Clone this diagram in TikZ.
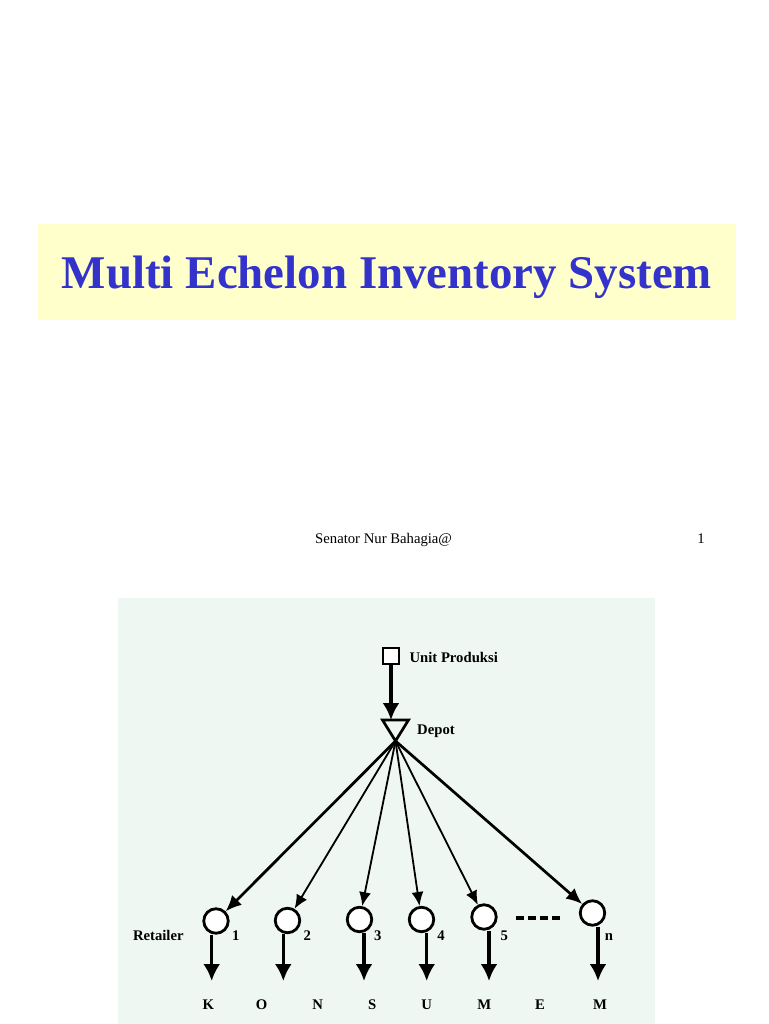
\documentclass[tikz,border=0pt]{standalone}
\usepackage{fontspec}
\setmainfont{Liberation Serif}
\usetikzlibrary{positioning}
\usetikzlibrary{arrows.meta}
\definecolor{biruJudul}{RGB}{51,51,204}
\definecolor{kuningJudul}{RGB}{255,255,204}
\definecolor{hijauPanel}{RGB}{238,247,242}

\begin{document}
\begin{tikzpicture}[x=1pt,y=-1pt,
judul/.style={anchor=base,text=biruJudul,font=\fontsize{46.9}{50}\selectfont\bfseries},
catatan/.style={anchor=base west,inner sep=0pt,font=\fontsize{14.7}{16}\selectfont},
teks/.style={anchor=base west,inner sep=0pt,font=\fontsize{14.7}{16}\selectfont\bfseries},
nomor/.style={anchor=base,inner sep=0pt,font=\fontsize{14.7}{16}\selectfont\bfseries},
pabrik/.style={draw,line width=2.7pt,fill=white,minimum size=16pt,inner sep=0pt},
toko/.style={draw,circle,line width=2.8pt,fill=white,minimum size=24.5pt,inner sep=0pt},
panahTebal/.style={line width=3.2pt,-{Latex[length=17pt,width=17pt]}},
panahFan/.style={line width=2.7pt,-{Latex[length=16pt,width=14pt]}},
panahTipis/.style={line width=1.8pt,-{Latex[length=14pt,width=12pt]}}
]
\useasboundingbox (0,0) rectangle (768,1024);
%-- judul
\fill[kuningJudul] (38,224) rectangle (736,320);
\node[judul](jd) at (387,288){Multi Echelon Inventory System};
\node[catatan](pengarang) at (315,543){Senator Nur Bahagia@};
\node[anchor=base,inner sep=0pt,font=\fontsize{14.7}{16}\selectfont](hal) at (701,543){1};
%-- panel
\fill[hijauPanel] (118,598) rectangle (655,1024);
%----
\node[pabrik](unit) at (391,656){};
\node[teks,right = 9pt of unit.east,anchor=west,yshift=-1pt](lunit){Unit Produksi};
\coordinate (depot) at (395.5,741);
\coordinate (depotA) at (382.5,720);
\coordinate (depotB) at (408.5,720);
\draw[line width=2.7pt,line join=miter] (depotA) -- (depotB) -- (depot) -- cycle;
\coordinate (masuk) at (391,720);
\draw[panahTebal] (unit) -- (masuk);
\node[teks](ldepot) at (417,734){Depot};
%----
\node[toko](c1) at (216,921){};
\node[toko](c2) at (287.5,920.5){};
\node[toko](c3) at (359.5,919.5){};
\node[toko](c4) at (421.5,919.5){};
\node[toko](c5) at (484,917){};
\node[toko](cn) at (592.5,913){};
%--
\draw[panahFan] (depot) -- (c1);
\draw[panahTipis] (depot) -- (c2);
\draw[panahTipis] (depot) -- (c3);
\draw[panahTipis] (depot) -- (c4);
\draw[panahTipis] (depot) -- (c5);
\draw[panahFan] (depot) -- (cn);
%--
\coordinate (titikA) at (516,918);
\coordinate (titikB) at (562,918);
\draw[line width=4.5pt,dash pattern=on 8pt off 4pt] (titikA) -- (titikB);
%--
\node[teks,anchor=base](lret) at (158.3,940){Retailer};
\node[nomor](n1) at (235.7,940){1};
\node[nomor](n2) at (307.3,940){2};
\node[nomor](n3) at (377.7,940){3};
\node[nomor](n4) at (441,940){4};
\node[nomor](n5) at (504.3,940){5};
\node[nomor](nn) at (609,940){n};
%----
\coordinate (k1) at (211.7,981);
\coordinate (k2) at (283.3,981);
\coordinate (k3) at (364,981);
\coordinate (k4) at (426.7,981);
\coordinate (k5) at (489,981);
\coordinate (kn) at (598,981);
\draw[panahTebal] (c1.south -| k1) -- (k1);
\draw[panahTebal] (c2.south -| k2) -- (k2);
\draw[panahTebal] (c3.south -| k3) -- (k3);
\draw[panahTebal] (c4.south -| k4) -- (k4);
\draw[panahTebal] (c5.south -| k5) -- (k5);
\draw[panahTebal] (cn.south -| kn) -- (kn);
%--
\node[nomor](h1) at (208.3,1009){K};
\node[nomor](h2) at (261.7,1009){O};
\node[nomor](h3) at (317.7,1009){N};
\node[nomor](h4) at (372.3,1009){S};
\node[nomor](h5) at (426.7,1009){U};
\node[nomor](h6) at (484.3,1009){M};
\node[nomor](h7) at (540,1009){E};
\node[nomor](h8) at (600,1009){M};
\end{tikzpicture}
\end{document}
